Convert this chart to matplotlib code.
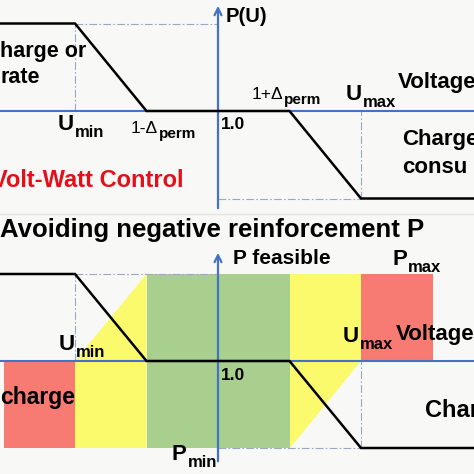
import matplotlib
matplotlib.use("Agg")
import matplotlib.pyplot as plt
from matplotlib.lines import Line2D

plt.rcParams["font.family"] = ["Liberation Sans", "DejaVu Sans"]

# voltage breakpoints (p.u.) and the Volt-Watt curve
u_min, u_lo, u_nom, u_hi, u_max = 0.90, 0.95, 1.00, 1.05, 1.10
curve_u = [0.80, u_min, u_lo, u_hi, u_max, 1.25]
curve_p = [1, 1, 0, 0, -1, -1]
p_max, p_min = 1, -1

# feasible-P zones of the lower panel
red_left_u = [0.85, u_min, u_min, 0.85]
red_left_p = [0, 0, p_min, p_min]
yellow_left_u = [u_min, u_lo, u_lo, u_min]
yellow_left_p = [p_min, p_min, p_max, 0]
green_u = [u_lo, u_hi, u_hi, u_lo]
green_p = [p_min, p_min, p_max, p_max]
yellow_right_u = [u_hi, u_hi, u_max, u_max]
yellow_right_p = [p_min, p_max, p_max, 0]
red_right_u = [u_max, 1.15, 1.15, u_max]
red_right_p = [0, 0, p_max, p_max]

BLUE = "#4472c4"
GUIDE = "#9aa8c2"
RED = "#f87b73"
YELLOW = "#fbf96c"
GREEN = "#a9cf8f"

fig = plt.figure(figsize=(4.74, 4.74), dpi=100, facecolor="#f8f8f6")
W = 474.0

# px -> data mapping: 1430 px per p.u. voltage, 1.0 at x=218
u_left = 1 - 218 / 1430
u_right = 1 + 256 / 1430

ax_top = fig.add_axes([0, 1 - 214 / W, 1, 214 / W])
ax_top.set_facecolor("white")
ax_top.set_xlim(u_left, u_right)
ax_top.set_ylim(-103 / 87.5, 111 / 87.5)

ax_bot = fig.add_axes([0, 0, 1, 234 / W])
ax_bot.set_facecolor("none")
ax_bot.set_xlim(u_left, u_right)
ax_bot.set_ylim(-113 / 87, 121 / 87)

for ax in (ax_top, ax_bot):
    ax.axis("off")

# zones
ax_bot.fill(red_left_u, red_left_p, color=RED, lw=0, zorder=1)
ax_bot.fill(yellow_left_u, yellow_left_p, color=YELLOW, lw=0, zorder=1)
ax_bot.fill(green_u, green_p, color=GREEN, lw=0, zorder=1)
ax_bot.fill(yellow_right_u, yellow_right_p, color=YELLOW, lw=0, zorder=1)
ax_bot.fill(red_right_u, red_right_p, color=RED, lw=0, zorder=1)

dash = (0, (7, 2, 1.5, 2))
for ax, top, bottom in ((ax_top, 1.234, -1.143), (ax_bot, 1.276, -1.184)):
    # guides
    ax.plot([u_min, u_nom], [p_max, p_max], color=GUIDE, lw=0.8, ls=dash, zorder=2)
    ax.plot([u_min, u_min], [0, p_max], color=GUIDE, lw=0.8, ls=dash, zorder=2)
    ax.plot([u_max, u_max], [p_min, 0], color=GUIDE, lw=0.8, ls=dash, zorder=2)
    ax.plot([u_nom, u_max], [p_min, p_min], color=GUIDE, lw=0.8, ls=dash, zorder=2)
    # axes
    ax.axhline(0, color=BLUE, lw=1.5, zorder=3)
    ax.annotate("", xy=(u_nom, top), xytext=(u_nom, bottom),
                arrowprops=dict(arrowstyle="->,head_length=0.5,head_width=0.25",
                                color=BLUE, lw=1.6), zorder=4)
    # curve
    ax.plot(curve_u, curve_p, color="black", lw=1.8, zorder=5,
            solid_joinstyle="miter")


def label(ax, u, p, main, sub=None, size=16, weight="bold", subsize=12,
          color="black", dy=-1.5):
    t = ax.text(u, p, main, fontsize=size, fontweight=weight, va="baseline",
                color=color, zorder=6)
    if sub:
        ax.annotate(sub, xy=(1, 0), xycoords=t, xytext=(0.5, dy),
                    textcoords="offset points", fontsize=subsize,
                    fontweight="bold", va="baseline", zorder=6)


# top panel texts
label(ax_top, 1.005, 1.017, "P(U)", size=14.5)
label(ax_top, 0.8476, 0.617, "harge or", size=15.5)
label(ax_top, 0.8476, 0.32, "rate", size=15.5)
label(ax_top, 1.1259, 0.263, "Voltage", size=16)
label(ax_top, 0.888, -0.217, "U", "min", size=16, subsize=12)
label(ax_top, 0.9392, -0.25, "1-Δ", "perm", size=12.5, weight="normal",
      subsize=11)
label(ax_top, 1.0021, -0.206, "1.0", size=12.5)
label(ax_top, 1.0238, 0.137, "1+Δ", "perm", size=12.5, weight="normal",
      subsize=11)
label(ax_top, 1.0895, 0.126, "U", "max", size=16, subsize=12)
label(ax_top, 1.1287, -0.389, "Charge", size=16)
label(ax_top, 1.1287, -0.709, "consu", size=16)
label(ax_top, 0.842, -0.869, "Volt-Watt Control", size=17, color="#e2101b")

# title band
fig.add_artist(Line2D([0, 1], [1 - 214 / W] * 2, color="#e4e4e4", lw=1))
fig.text(0.0, 1 - 237 / W, "Avoiding negative reinforcement P",
         fontsize=18.5, fontweight="bold", va="baseline")

# bottom panel texts
label(ax_bot, 1.0105, 1.115, "P feasible", size=15)
label(ax_bot, 1.1217, 1.103, "P", "max", size=16, subsize=12)
label(ax_bot, 0.8888, 0.126, "U", "min", size=16, subsize=12)
label(ax_bot, 1.0875, 0.22, "U", "max", size=16, subsize=12)
label(ax_bot, 1.1245, 0.24, "Voltage", size=16)
label(ax_bot, 1.0021, -0.218, "1.0", size=12.5)
label(ax_bot, 0.8476, -0.494, "charge", size=16.5)
label(ax_bot, 1.1448, -0.644, "Char", size=17)
label(ax_bot, 0.9678, -1.138, "P", "min", size=16, subsize=12)

fig.savefig("out.png", dpi=100, facecolor=fig.get_facecolor())
